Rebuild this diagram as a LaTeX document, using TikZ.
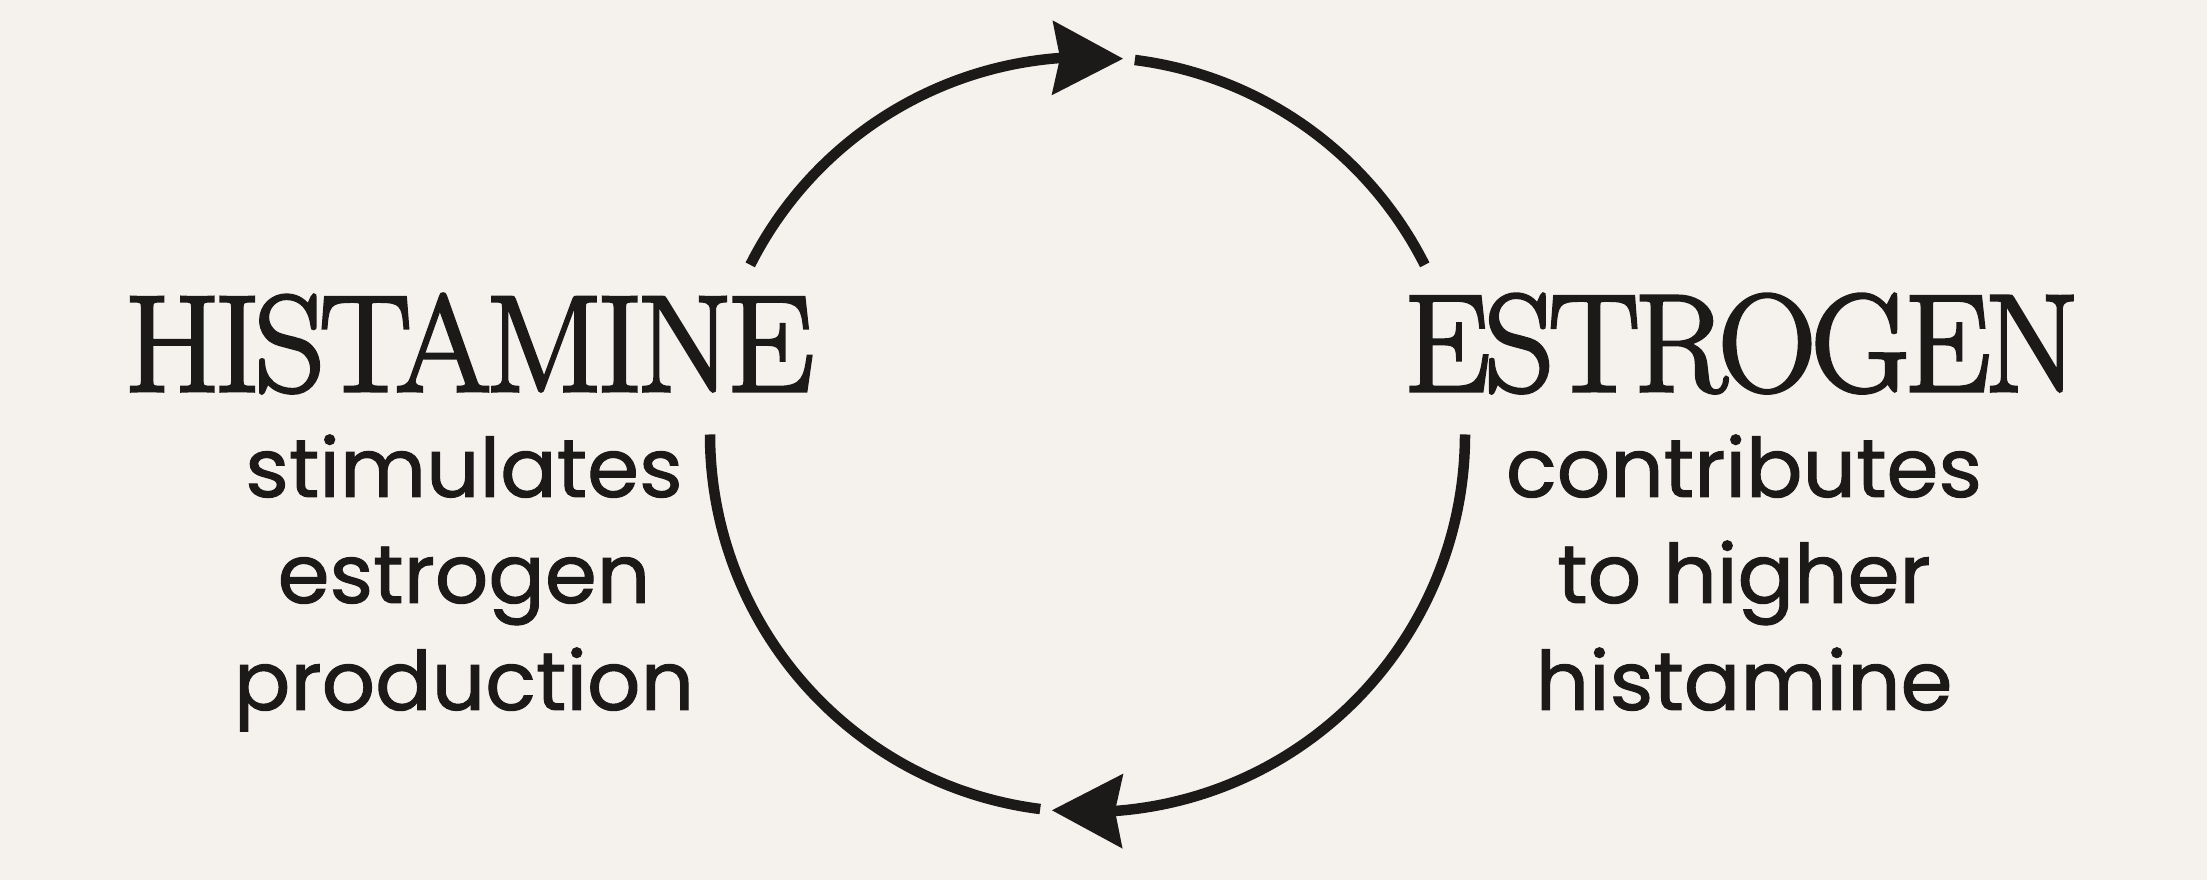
\documentclass[tikz,border=0pt]{standalone}
\usepackage{fontspec}
\usepackage{graphicx}
\usetikzlibrary{arrows.meta,bending}
\newfontfamily\bodyfont[FakeStretch=1.02,FakeBold=1.2]{Poppins}
\newfontfamily\titlefont[FakeBold=2.5,LetterSpace=-4]{Latin Modern Roman}
\definecolor{bg}{RGB}{245,242,238}
\definecolor{ink}{RGB}{28,26,25}
\tikzset{
  title/.style={anchor=base,inner sep=0pt,text=ink,font=\titlefont\fontsize{140}{140}\selectfont},
  body/.style={anchor=base,inner sep=0pt,text=ink,font=\bodyfont\fontsize{82}{100}\selectfont},
  cyc/.style={draw=ink,line width=10.5pt},
  tipb/.style={-{Stealth[length=71pt,width=75pt,inset=8pt,line width=0pt,flex]}}
}
\begin{document}
\begin{tikzpicture}[x=1pt,y=1pt]
\useasboundingbox (0,0) rectangle (2207,880);
\fill[bg] (0,0) rectangle (2207,880);
\coordinate (C) at (1087.5,445.5);
% titles
\node[title] (hist) at (469,489) {\resizebox{689pt}{97pt}{HISTAMINE}};
\node[title] (estr) at (1741.5,489) {\resizebox{675pt}{97pt}{ESTROGEN}};
% left text
\node[body] (l1) at (464,383) {stimulates};
\node[body] (l2) at (464,277) {estrogen};
\node[body] (l3) at (464,170) {production};
% right text
\node[body] (r1) at (1744,383) {contributes};
\node[body] (r2) at (1744,277) {to higher};
\node[body] (r3) at (1744,170) {histamine};
% cycle arcs
\draw[cyc,tipb] ([shift={(153.3:377.5)}]C) arc[start angle=153.3,end angle=84.6,radius=377.5];
\draw[cyc] ([shift={(82.8:377.5)}]C) arc[start angle=82.8,end angle=26.7,radius=377.5];
\draw[cyc,tipb] ([shift={(0:377.5)}]C) arc[start angle=0,end angle=-95.4,radius=377.5];
\draw[cyc] ([shift={(-97.2:377.5)}]C) arc[start angle=-97.2,end angle=-180,radius=377.5];
\end{tikzpicture}
\end{document}
